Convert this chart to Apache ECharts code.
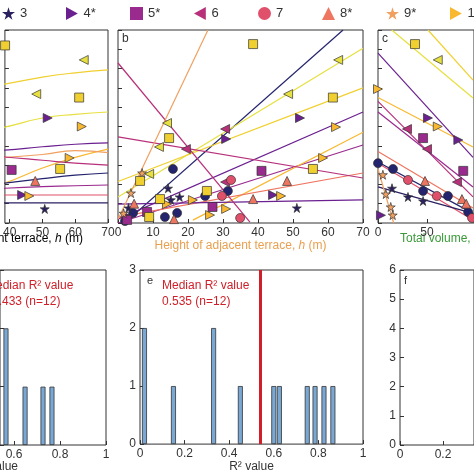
<!DOCTYPE html>
<html>
<head>
<meta charset="utf-8">
<script src="https://cdn.jsdelivr.net/npm/echarts@6/dist/echarts.min.js"></script>
<style>html,body{margin:0;padding:0;background:#fff}#chart{width:474px;height:474px}</style>
</head>
<body>
<div id="chart"></div>
<script>
const STAR = 'path://M50,0 L61,35 98,35 68,57 79,91 50,70 21,91 32,57 2,35 39,35Z';
const TRI_RIGHT = 'path://M0,0 L100,55 0,110Z';
const TRI_LEFT = 'path://M100,0 L0,55 100,110Z';

const siteNames = ['1', '3', '4*', '5*', '6', '7', '8*', '9*', '10', '11', '12'];
const legendSites = ['3', '4*', '5*', '6', '7', '8*', '9*', '10'];
const siteColors = {
	'1': '#23236e', '3': '#2a2060', '4*': '#6b2090', '5*': '#9a2a8e', '6': '#b8307a',
	'7': '#e0506a', '8*': '#ee7560', '9*': '#f0a060', '10': '#f8b830', '11': '#f0d030', '12': '#e6e040'
};
const siteSymbols = {
	'1': 'circle', '3': STAR, '4*': TRI_RIGHT, '5*': 'rect', '6': TRI_LEFT,
	'7': 'circle', '8*': 'triangle', '9*': STAR, '10': TRI_RIGHT, '11': 'rect', '12': TRI_LEFT
};

// panel b points (height of adjacent terrace vs. y)
const pointsB = {
	'1': [[15.7, 28], [31.4, 16.6], [24.9, 14], [16.9, 5.2], [13.4, 3.1], [4.3, 5.2], [2, 1]],
	'3': [[14.3, 18], [17.6, 13.5], [15.1, 12], [51.1, 7.8], [3, 7.8]],
	'4*': [[52, 54.4], [30.9, 43.5], [44.3, 14.5], [3, 3]],
	'5*': [[41, 27], [27, 8.3], [8.3, 5.7], [2.6, 1.6]],
	'6': [[30.6, 48.7], [19.4, 38.3], [30.6, 21.2]],
	'7': [[32.3, 22.3], [29.7, 14], [34.9, 2.6]],
	'8*': [[48.3, 21.8], [38.6, 12.4], [16, 2], [4.6, 10]],
	'9*': [[3.7, 15.5], [6.9, 25.9], [1.6, 5]],
	'10': [[62.3, 49.7], [58.6, 33.7], [46.6, 14], [21.4, 11.9], [26.3, 4.1], [30.9, 7.3], [14, 9.8]],
	'11': [[38.6, 92.7], [61.4, 65], [14.6, 44], [6.3, 21.8], [25.4, 16.6], [12, 12.4], [8.9, 3.1], [55.7, 28]],
	'12': [[62.9, 84.5], [48.6, 66.8], [14, 51.8], [11.7, 39.4], [8.9, 25.4]]
};
const linesB = [
	['1', [[0, -3], [64.3, 100]]],
	['12', [[0, 13.5], [70, 90.6]]],
	['11', [[0, 21.5], [70, 70]]],
	['4*', [[0, 2], [70, 57.5]]],
	['5*', [[0, 0], [70, 40.4]]],
	['10', [[21.4, 1.5], [70, 47]]],
	['8*', [[0, 3], [70, 25.9]]],
	['4*', [[0, 9.8], [70, 12]]],
	['6', [[0, 44.6], [70, 23.3]]],
	['6', [[0, 82.9], [37.7, 0.5]]],
	['9*', [[0, 2], [25.7, 100]]]
];

// panel a points (only right part visible)
const pointsA = {
	'12': [[62.6, 84.5], [48.1, 66.8]],
	'11': [[61.2, 65], [55.4, 28], [38.6, 92]],
	'4*': [[51.6, 54.4], [43.8, 14.5]],
	'10': [[62, 50], [58.3, 33.7], [46, 14]],
	'5*': [[40.6, 27.5]],
	'8*': [[47.8, 21.8]],
	'3': [[50.7, 7.3]]
};
const linesA = [
	['11', [[30, 70], [38.5, 72], [50, 75.6], [60, 77.8], [70, 79.3]]],
	['12', [[30, 47.5], [38.5, 49.7], [50, 54.4], [60, 56.3], [70, 57.5]]],
	['4*', [[30, 37.2], [38.5, 37.8], [50, 39.5], [60, 40.8], [70, 41.5]]],
	['10', [[30, 17], [38.5, 20.7], [50, 28.5], [60, 34], [70, 38.3]]],
	['9*', [[30, 33.5], [38.5, 34], [50, 35.5], [60, 37.5], [70, 36.5]]],
	['6', [[30, 35], [38.5, 34.2], [50, 32.5], [60, 31], [70, 30]]],
	['1', [[30, 19], [38.5, 20.7], [50, 23], [60, 24.8], [70, 25.9]]],
	['5*', [[30, 17.5], [38.5, 18], [50, 18.8], [60, 19.3], [70, 19.7]]],
	['7', [[30, 14.5], [70, 14.5]]],
	['3', [[30, 10.4], [70, 10.4]]]
];

// panel c points (total volume vs. y)
const pointsC = {
	'11': [[37.8, 92.7]],
	'12': [[61, 84.5]],
	'10': [[0, 69.4], [61, 50]],
	'4*': [[51, 54.4], [82, 43], [3, 4]],
	'5*': [[46, 44], [87, 27]],
	'6': [[29.6, 48.7], [50, 38.3], [80.6, 21.2]],
	'1': [[0, 31], [15.3, 28], [46, 16.6], [71.4, 14], [92, 5.7]],
	'7': [[30.6, 22.3], [60, 14], [96, 2.6]],
	'8*': [[48, 21.8], [85.7, 12.4], [90, 10]],
	'3': [[14.3, 18], [30.6, 13.5], [46, 11.4]],
	'9*': [[5, 25], [8, 15], [13, 8.3], [15, 4.1]]
};
const linesC = [
	['12', [[14, 100], [97, 64.8]]],
	['11', [[51, 100], [97, 74]]],
	['10', [[0, 65], [97, 39.4]]],
	['4*', [[0, 88], [97, 34]]],
	['6', [[0, 63], [97, 13.5]]],
	['5*', [[0, 57.5], [97, 18.7]]],
	['8*', [[0, 37], [97, 7.8]]],
	['7', [[0, 31], [97, 1.5]]],
	['1', [[0, 31.6], [97, 5]]],
	['3', [[0, 18.7], [97, 5]]],
	['9*', [[0, 28], [16, 0]]]
];

// histograms of R² values
const histD = [[0.565, 2], [0.648, 1], [0.726, 1], [0.765, 1]];
const histE = [[0.02, 2], [0.15, 1], [0.33, 2], [0.45, 1], [0.6, 1], [0.625, 1], [0.75, 1], [0.785, 1], [0.825, 1], [0.865, 1]];
const medianE = 0.535;

const chart = echarts.init(document.getElementById('chart'));
const font = 'Liberation Sans';
const tick = { inside: true, length: 4, lineStyle: { color: '#333' } };
const label = { color: '#333', fontSize: 12, fontFamily: font, margin: 4 };

const grids = [
	{ left: 0, top: 30, width: 108, height: 193 },
	{ left: 118, top: 30, width: 245, height: 193 },
	{ left: 378, top: 30, width: 96, height: 193 },
	{ left: 0, top: 270, width: 106, height: 175 },
	{ left: 140, top: 270, width: 223, height: 175 },
	{ left: 400, top: 270, width: 74, height: 175 }
].map(g => ({ ...g, show: true, borderColor: '#333', borderWidth: 1, backgroundColor: 'transparent' }));

const terraceRich = {
	a: { color: '#e8a050', fontSize: 12, fontFamily: font },
	i: { color: '#e8a050', fontSize: 12, fontFamily: font, fontStyle: 'italic' }
};
const terraceText = '{a|Height of adjacent terrace, }{i|h}{a| (m)}';
const r2Name = { name: 'R² value', nameLocation: 'middle', nameGap: 14, nameTextStyle: { color: '#333', fontSize: 12, fontFamily: font } };

const xAxis = [
	{ gridIndex: 0, min: 38.55, max: 70, axisTick: { ...tick, customValues: [40, 50, 60, 70] }, axisLabel: { ...label, customValues: [40, 50, 60, 70] } },
	{ gridIndex: 1, min: 0, max: 70, interval: 10, name: terraceText, nameLocation: 'middle', nameGap: 12, nameTextStyle: { rich: terraceRich } },
	{ gridIndex: 2, min: 0, max: 98, axisTick: { ...tick, customValues: [0, 50] }, axisLabel: { ...label, customValues: [0, 50] } },
	{ gridIndex: 3, min: 0.539, max: 1, axisTick: { ...tick, customValues: [0.6, 0.8, 1] }, axisLabel: { ...label, customValues: [0.6, 0.8, 1] } },
	{ gridIndex: 4, min: 0, max: 1, interval: 0.2, ...r2Name },
	{ gridIndex: 5, min: 0, max: 0.344, axisTick: { ...tick, customValues: [0, 0.2] }, axisLabel: { ...label, customValues: [0, 0.2] } }
].map(a => ({ axisTick: tick, axisLabel: label, ...a, type: 'value', axisLine: { show: false }, splitLine: { show: false } }));

const yAxis = [
	{ gridIndex: 0, max: 100, interval: 10, axisLabel: { show: false } },
	{ gridIndex: 1, max: 100, interval: 10, axisLabel: { show: false } },
	{ gridIndex: 2, max: 100, interval: 10, axisLabel: { show: false } },
	{ gridIndex: 3, max: 3, interval: 1, axisLabel: { show: false } },
	{ gridIndex: 4, max: 3, interval: 1, axisLabel: label },
	{ gridIndex: 5, max: 6, interval: 1, axisLabel: label }
].map(a => ({ ...a, type: 'value', min: 0, axisLine: { show: false }, splitLine: { show: false }, axisTick: tick }));

const series = [];
function addLines(lines, gi) {
	lines.forEach(([site, pts]) => {
		series.push({
			type: 'line', xAxisIndex: gi, yAxisIndex: gi, data: pts, symbol: 'none', smooth: pts.length > 2,
			clip: true, silent: true, lineStyle: { color: siteColors[site], width: 1.2 }, z: 1
		});
	});
}
addLines(linesA, 0);
addLines(linesB, 1);
addLines(linesC, 2);

siteNames.forEach(site => {
	[pointsA, pointsB, pointsC].forEach((pts, gi) => {
		if (!pts[site]) return;
		series.push({
			name: site, type: 'scatter', xAxisIndex: gi, yAxisIndex: gi, data: pts[site],
			symbol: siteSymbols[site], symbolSize: 9, clip: true,
			itemStyle: { color: siteColors[site], borderColor: '#333', borderWidth: 0.7, opacity: 1 }, z: 3
		});
	});
});

function addHist(data, gi, median) {
	series.push({
		type: 'bar', xAxisIndex: gi, yAxisIndex: gi, data, barWidth: 5,
		itemStyle: { color: '#79a8d4', borderColor: '#333', borderWidth: 0.8 },
		markLine: median === undefined ? undefined : {
			symbol: 'none', silent: true, label: { show: false },
			lineStyle: { color: '#d01f28', width: 3, type: 'solid' }, data: [{ xAxis: median }]
		}
	});
}
addHist(histD, 3);
addHist(histE, 4, medianE);

const legend = legendSites.map((site, i) => ({
	data: [{ name: site, icon: siteSymbols[site], itemStyle: { borderWidth: 0 } }],
	left: -3 + i * 64, top: 2, itemWidth: 13, itemHeight: 13, itemGap: 4,
	selectedMode: false,
	textStyle: { color: '#333', fontSize: 13, fontFamily: font }
}));

const txt = (x, y, text, color, size) => ({
	type: 'text', x, y, style: { text, fill: color || '#333', font: `${size || 11}px "${font}"` }
});

chart.setOption({
	animation: false,
	grid: grids, xAxis, yAxis, series, legend,
	graphic: [
		{ type: 'text', x: 83, y: 233, style: { text: terraceText, rich: terraceRich, align: 'right' } },
		{ type: 'text', x: 18, y: 461, style: { text: 'R² value', fill: '#333', font: `12px "${font}"`, align: 'right' } },
		txt(400, 233, 'Total volume, V (10⁶ m³)', '#3a9a3a', 12),
		txt(122, 33, 'b', '#333', 12),
		txt(382, 33, 'c', '#333', 12),
		txt(147, 275, 'e', '#333', 11),
		txt(404, 275, 'f', '#333', 11),
		txt(-14, 280, 'Median R² value', '#d01f28', 12),
		txt(-8, 296, '0.433 (n=12)', '#d01f28', 12),
		txt(162, 280, 'Median R² value', '#d01f28', 12),
		txt(162, 296, '0.535 (n=12)', '#d01f28', 12)
	]
});
</script>
</body>
</html>
